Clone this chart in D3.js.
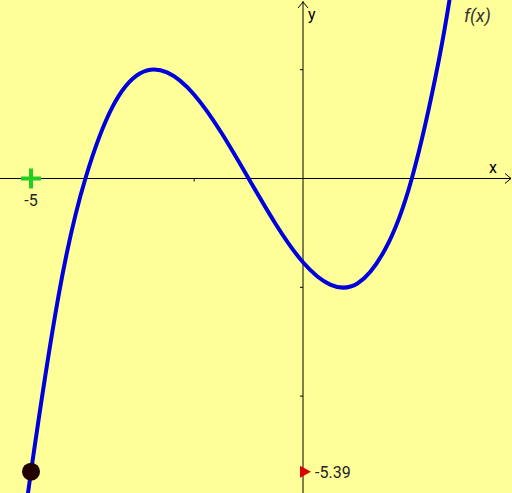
<!DOCTYPE html>
<html>
<head>
<meta charset="utf-8">
<script src="https://cdn.jsdelivr.net/npm/d3@7"></script>
<style>
  body { margin: 0; background: #ffff99; }
  svg { display: block; }
  text { font-family: Roboto, "DejaVu Sans", sans-serif; }
</style>
</head>
<body>
<svg id="chart" width="512" height="493"></svg>
<script>
// Points.
const xs = [-5.1, -5, -4.5, -4, -3.5, -3, -2.5, -2, -1.5, -1, -0.5, 0, 0.5, 1, 1.5, 2, 2.5, 2.75];
const ys = [-6.16, -5.39, -2.19, 0, 1.32, 1.93, 1.95, 1.54, 0.84, 0, -0.84, -1.54, -1.95, -1.93, -1.32, 0, 2.19, 3.65];
const xTicks = [-4, -2, 2];
const yTicks = [-4, -2, 2];
const marker = { x: -5, y: -5.39 };

const width = 512, height = 493;
const svg = d3.select('#chart');

// 54.4 px per unit, origin at (303, 178.5).
const x = d3.scaleLinear().domain([-5.570, 3.842]).range([0, width]);
const y = d3.scaleLinear().domain([3.281, -5.781]).range([0, height]);

svg.append('rect').attr('width', width).attr('height', height).attr('fill', '#ffff99');

// Axes.
const axes = svg.append('g').attr('stroke', '#000').attr('stroke-width', 1);
axes.append('line').attr('x1', 0).attr('x2', width - 1).attr('y1', y(0)).attr('y2', y(0));
axes.append('line').attr('x1', x(0)).attr('x2', x(0)).attr('y1', 1).attr('y2', height);
axes.append('path').attr('fill', 'none')
  .attr('d', `M${width - 7},${y(0) - 5}L${width - 1},${y(0)}L${width - 7},${y(0) + 5}`);
axes.append('path').attr('fill', 'none')
  .attr('d', `M${x(0) - 5},${8}L${x(0)},${2}L${x(0) + 5},${8}`);
xTicks.forEach(t => axes.append('line')
  .attr('x1', x(t)).attr('x2', x(t)).attr('y1', y(0)).attr('y2', y(0) + 3));
yTicks.forEach(t => axes.append('line')
  .attr('x1', x(0) - 3).attr('x2', x(0)).attr('y1', y(t)).attr('y2', y(t)));

svg.append('text').attr('x', 489).attr('y', 173).attr('font-size', 16).text('x');
svg.append('text').attr('x', 308).attr('y', 20).attr('font-size', 16).text('y');

// Curve.
const pts = xs.map((d, i) => [d, ys[i]]);
svg.append('path')
  .datum(pts)
  .attr('fill', 'none')
  .attr('stroke', '#0000dd')
  .attr('stroke-width', 4)
  .attr('d', d3.line().x(d => x(d[0])).y(d => y(d[1])).curve(d3.curveNatural));

svg.append('text').attr('x', 464).attr('y', 22)
  .attr('font-family', '"DejaVu Serif", "Liberation Serif", serif')
  .attr('font-style', 'italic').attr('font-size', 18).attr('fill', '#333').text('f(x)');

// Green cross at x = -5.
const cx = x(marker.x), cy = y(0);
svg.append('path').attr('stroke', '#22cc22').attr('stroke-width', 4)
  .attr('d', `M${cx - 10},${cy}H${cx + 10}M${cx},${cy - 10}V${cy + 10}`);
svg.append('text').attr('x', cx).attr('y', 206).attr('text-anchor', 'middle')
  .attr('font-size', 16).attr('fill', '#222').text('-5');

// Point on the curve and its value on the y axis.
svg.append('circle').attr('cx', x(marker.x)).attr('cy', y(marker.y)).attr('r', 9)
  .attr('fill', '#220000');
const ty = y(marker.y);
svg.append('path').attr('fill', '#dd0000')
  .attr('d', `M${x(0) - 3},${ty - 6}L${x(0) + 8},${ty}L${x(0) - 3},${ty + 6}Z`);
svg.append('text').attr('x', x(0) + 12).attr('y', ty + 6)
  .attr('font-size', 16).attr('fill', '#222').text(marker.y.toFixed(2));
</script>
</body>
</html>
